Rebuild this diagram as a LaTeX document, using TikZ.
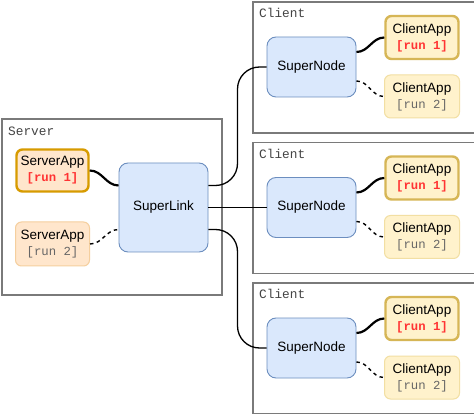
\documentclass[tikz,border=0pt]{standalone}
\usepackage{fontspec}
\setmainfont{Liberation Sans}
\newfontfamily\monof{Liberation Mono}
\usetikzlibrary{calc}
\definecolor{orfill}{HTML}{FFE6CC}
\definecolor{ordraw}{HTML}{D79B00}
\definecolor{orlight}{HTML}{F5CF9E}
\definecolor{yefill}{HTML}{FFF2CC}
\definecolor{yedraw}{HTML}{D6B656}
\definecolor{yelight}{HTML}{F2DFA3}
\definecolor{blfill}{HTML}{DAE8FC}
\definecolor{bldraw}{HTML}{6C8EBF}
\definecolor{contdraw}{HTML}{7A7A7A}
\definecolor{runred}{HTML}{FF3333}
\definecolor{rungray}{HTML}{666666}
\definecolor{labgray}{HTML}{444444}
\begin{document}
\begin{tikzpicture}[x=1pt,y=-1pt,
  every node/.style={font=\fontsize{13.5}{16}\selectfont, inner sep=0pt, align=center},
  cont/.style={draw=contdraw, line width=1.4pt},
  contlabel/.style={anchor=west, text=labgray, font=\fontsize{12.8}{14}\monof},
  hub/.style={draw=bldraw, fill=blfill, line width=0.9pt, rounded corners=9pt},
  srvA/.style={draw=ordraw, fill=orfill, line width=2.4pt, rounded corners=6pt, minimum width=72pt, minimum height=42pt},
  srvB/.style={draw=orlight, fill=orfill, line width=1pt, rounded corners=6pt, minimum width=74pt, minimum height=44pt},
  cliA/.style={draw=yedraw, fill=yefill, line width=2.4pt, rounded corners=6pt, minimum width=73pt, minimum height=43pt},
  cliB/.style={draw=yelight, fill=yefill, line width=1pt, rounded corners=6pt, minimum width=75pt, minimum height=43pt},
  linkmain/.style={draw=black, line width=2.2pt},
  linkdash/.style={draw=black, line width=1.4pt, dash pattern=on 3.5pt off 3.5pt},
  linkplain/.style={draw=black, line width=1.3pt},
]
\useasboundingbox (0,0) rectangle (474,414);
\clip (0,0) rectangle (474,414);
\fill[white] (0,0) rectangle (474,414);
\newcommand{\runA}[1]{{\fontsize{12.3}{14}\monof\bfseries\color{runred}[run #1]}}
\newcommand{\runB}[1]{{\fontsize{12.3}{14}\monof\color{rungray}[run #1]}}

% containers
\draw[cont] (2,119) rectangle (222,295);
\node[contlabel] (lserver) at (8,131) {Server};
\foreach \k/\oy in {1/0,2/140.5,3/281}{
  \draw[cont] (253,2+\oy) rectangle (490,133+\oy);
  \node[contlabel] (lclient\k) at (259,13+\oy) {Client};
}

% server nodes
\node[hub, minimum width=89pt, minimum height=89pt] (sl) at (163.5,207.5) {SuperLink};
\node[srvA] (sa1) at (52.5,170.5) {ServerApp\\\runA{1}};
\node[srvB] (sa2) at (52.5,244) {ServerApp\\\runB{2}};

\draw[linkmain] (sa1.east) to[out=0,in=180] ([yshift=22pt]sl.west);
\draw[linkdash] (sa2.east) to[out=0,in=180] ([yshift=-22pt]sl.west);

% client nodes
\foreach \k/\oy in {1/0,2/140.5,3/281}{
  \node[hub, minimum width=89pt, minimum height=60pt] (sn\k) at (311.5,67+\oy) {SuperNode};
  \node[cliA] (ca\k) at (422,37.5+\oy) {ClientApp\\\runA{1}};
  \node[cliB] (cb\k) at (422,96.5+\oy) {ClientApp\\\runB{2}};
  \draw[linkmain] ([yshift=15pt]sn\k.east) to[out=0,in=180] (ca\k.west);
  \draw[linkdash] ([yshift=-14pt]sn\k.east) to[out=0,in=180] (cb\k.west);
}

% superlink to supernodes
\draw[linkplain, rounded corners=22pt] ([yshift=22pt]sl.east) -| ($(sl.east)!0.5!(sn1.west)$) |- (sn1.west);
\draw[linkplain] (sl.east) -- (sn2.west);
\draw[linkplain, rounded corners=22pt] ([yshift=-22pt]sl.east) -| ($(sl.east)!0.5!(sn3.west)$) |- (sn3.west);
\end{tikzpicture}
\end{document}
